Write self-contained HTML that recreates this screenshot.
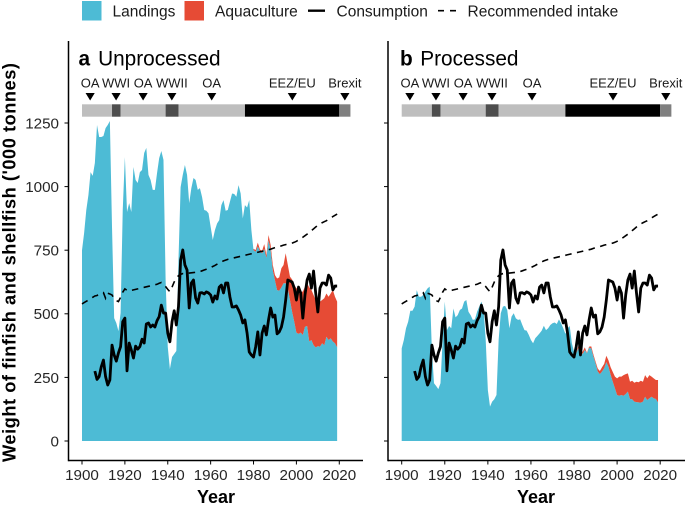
<!DOCTYPE html>
<html lang="en">
<head>
<meta charset="utf-8">
<title>Weight of finfish and shellfish</title>
<style>
html,body{margin:0;padding:0;background:#fff;}
svg{display:block;font-family:"Liberation Sans",Arial,sans-serif;}
</style>
</head>
<body>
<svg id="chart" xmlns="http://www.w3.org/2000/svg" width="685" height="505" viewBox="0 0 685 505">
  <g>
    <rect x="82" y="1" width="19.5" height="19.5" fill="#4DBBD5"/>
    <text x="112.5" y="16.5" font-size="15.5" fill="#1a1a1a">Landings</text>
    <rect x="184.5" y="1" width="19.5" height="19.5" fill="#E64B35"/>
    <text x="215" y="16.5" font-size="15.5" fill="#1a1a1a">Aquaculture</text>
    <line x1="308" y1="10.7" x2="325" y2="10.7" stroke="#000" stroke-width="2.4"/>
    <text x="336.5" y="16.5" font-size="15.5" fill="#1a1a1a">Consumption</text>
    <line x1="438" y1="10.7" x2="457" y2="10.7" stroke="#000" stroke-width="1.6" stroke-dasharray="6 6"/>
    <text x="467.5" y="16.5" font-size="15.5" fill="#1a1a1a">Recommended intake</text>
  </g>
  <text transform="translate(15.5,462) rotate(-90)" font-size="18.3" font-weight="bold" fill="#000" textLength="399" lengthAdjust="spacing">Weight of finfish and shellfish ('000 tonnes)</text>
  <text x="216" y="503" text-anchor="middle" font-size="18" font-weight="bold" fill="#000">Year</text>
  <text x="536" y="503" text-anchor="middle" font-size="18" font-weight="bold" fill="#000">Year</text>
  <g id="panel-a"></g>
  <g id="panel-b"></g>
</svg>
<script>
const startYear = 1900;
const aquacultureStartYear = 1980;
const consumptionStartYear = 1906;

const landingsUnprocessed = [
750,818,908,967,1057,1042,1093,1242,1195,1195,
1199,1230,1242,1258,840,483,464,432,503,908,
1116,900,935,900,1077,1026,1014,1057,1065,1132,
1152,1046,1026,987,987,1053,1112,1140,1105,633,
370,283,330,342,354,711,998,1046,1085,1046,
935,994,1034,1026,987,994,959,908,905,895,
842,790,829,855,868,927,947,905,908,941,
973,971,960,1006,973,875,927,918,947,829,
750,744,765,745,738,755,720,790,750,670,
632,593,591,604,620,620,600,554,508,469,
426,421,426,417,449,452,391,397,377,368,
373,371,384,377,410,397,404,391,384,368];

const aquacultureUnprocessed = [
5,7,15,8,10,19,11,20,20,22,
20,46,52,75,72,118,92,92,127,144,
174,179,161,170,158,168,213,197,197,186,
168,177,170,184,170,170,176,203,183,180];

const landingsProcessed = [
364,397,443,469,512,512,528,593,567,567,
574,587,600,607,358,227,216,204,227,397,
548,436,452,443,521,486,495,515,521,548,
554,508,495,476,478,508,528,548,521,397,
200,135,155,164,181,397,502,528,531,515,
443,489,502,482,476,478,456,436,434,417,
397,384,404,413,423,434,453,436,443,456,
463,466,460,478,463,443,421,443,452,384,
351,345,364,355,342,358,345,367,364,332,
305,273,263,273,286,310,292,260,233,207,
181,178,181,178,185,194,165,164,155,153,
152,151,155,174,161,168,174,168,165,152];

const aquacultureProcessed = [
0,2,9,3,9,10,2,4,8,8,
7,12,12,17,17,25,25,30,38,46,
65,75,72,81,78,72,68,73,74,80,
79,86,78,85,85,91,79,78,75,88];

const consumption = [
275,242,253,292,
318,253,220,240,377,338,314,346,371,469,
483,276,385,358,326,373,361,371,400,385,
460,464,448,456,448,473,489,534,503,503,
424,390,469,512,456,528,711,751,692,672,
523,621,633,562,542,582,583,578,586,582,
574,546,570,558,605,613,582,621,621,566,
527,527,531,515,495,464,476,424,350,338,
330,370,429,338,424,452,417,476,523,487,
495,421,429,448,487,554,633,629,625,601,
554,605,582,483,574,633,656,601,668,582,
507,601,621,621,613,652,641,594,609,609];

const recommendedIntake = [
539,544,549,554,560,565,570,572,577,580,
583,561,581,578,574,560,552,548,565,585,
598,592,590,592,594,596,598,600,602,604,
606,608,610,612,614,616,620,623,614,607,
596,587,605,625,640,650,655,658,658,659,
660,661,662,663,664,666,669,672,675,678,
682,686,690,695,700,704,708,711,714,716,
718,720,722,724,726,728,730,732,734,736,
738,740,742,744,746,748,750,752,754,757,
760,762,764,767,770,772,774,776,778,781,
785,790,795,801,807,813,820,827,834,841,
848,853,858,862,866,872,877,882,887,892];

const xTicks = [1900,1920,1940,1960,1980,2000,2020];
const yTicks = [0,250,500,750,1000,1250];
const eventLabels = ["OA","WWI","OA","WWII","OA","EEZ/EU","Brexit"];
const eventYears = [1903.8,1915.9,1928.5,1941.9,1960.5,1998.1,2022.6];
const periodStarts = [1900,1914,1918,1939,1945,1976,2020];
const periodEnds = [1914,1918,1939,1945,1976,2020,2025.2];
const periodColors = ["#bebebe","#4d4d4d","#bebebe","#4d4d4d","#bebebe","#000000","#7f7f7f"];

const NS = "http://www.w3.org/2000/svg";
const yZero = 441;
const yScalePerUnit = 0.2544;

function yPos(v){ return yZero - v * yScalePerUnit; }

function mk(parent, tag, attrs, txt){
  const el = document.createElementNS(NS, tag);
  for (const k in attrs) el.setAttribute(k, attrs[k]);
  if (txt !== undefined) el.textContent = txt;
  parent.appendChild(el);
  return el;
}

function linePath(values, firstYear, xPos){
  return values.map(function(v,i){
    return (i ? "L" : "M") + xPos(firstYear + i).toFixed(2) + " " + yPos(v).toFixed(2);
  }).join("");
}

function drawPanel(group, o){
  const xPos = function(year){ return o.x1900 + (year - 1900) * o.xScale; };
  const lastYear = startYear + o.landings.length - 1;

  const axisColor = "#000";

  // landings area
  const landingsD = linePath(o.landings, startYear, xPos) +
    "L" + xPos(lastYear).toFixed(2) + " " + yPos(0) +
    "L" + xPos(startYear).toFixed(2) + " " + yPos(0) + "Z";
  const landingsArea = mk(group, "path", {d: landingsD, fill: "#4DBBD5"});
  
  

  // aquaculture area stacked on landings
  const base = o.landings.slice(aquacultureStartYear - startYear);
  const stackTop = o.aquaculture.map(function(v,i){ return v + base[i]; });
  let aquaD = linePath(stackTop, aquacultureStartYear, xPos);
  for (let i = base.length - 1; i >= 0; i--) {
    aquaD += "L" + xPos(aquacultureStartYear + i).toFixed(2) + " " + yPos(base[i]).toFixed(2);
  }
  const aquaArea = mk(group, "path", {d: aquaD + "Z", fill: "#E64B35"});
  
  

  // recommended intake
  const intakeLine = mk(group, "path", {d: linePath(recommendedIntake, startYear, xPos), fill: "none", stroke: "#000", "stroke-width": 1.6, "stroke-dasharray": "6.5 5.5"});
  
  

  // consumption
  const consumptionLine = mk(group, "path", {d: linePath(consumption, consumptionStartYear, xPos), fill: "none", stroke: "#000", "stroke-width": 2.8, "stroke-linejoin": "round"});
  
  

  // period bar
  periodStarts.forEach(function(s,i){
    const seg = mk(group, "rect", {x: xPos(s).toFixed(2), y: 104.3, width: (xPos(periodEnds[i]) - xPos(s)).toFixed(2), height: 12.4, fill: periodColors[i]});
    
    
  });

  // event labels and markers
  eventLabels.forEach(function(label,i){
    const cx = xPos(eventYears[i]);
    const t = mk(group, "text", {x: cx.toFixed(2), y: 87.5, "text-anchor": "middle", "font-size": 13, fill: "#1a1a1a"}, label);
    
    
    const m = mk(group, "path", {d: "M" + (cx-4.6).toFixed(2) + " 93L" + (cx+4.6).toFixed(2) + " 93L" + cx.toFixed(2) + " 100.5Z", fill: "#000"});
    
    
  });

  // axes
  const yAxis = mk(group, "line", {x1: o.axisX, y1: 41, x2: o.axisX, y2: 461.3, stroke: axisColor, "stroke-width": 1.5});
  
  
  const xAxis = mk(group, "line", {x1: o.axisX, y1: 460.5, x2: o.axisEnd, y2: 460.5, stroke: axisColor, "stroke-width": 1.5});
  
  

  yTicks.forEach(function(v){
    const tick = mk(group, "line", {x1: o.axisX - 4, y1: yPos(v), x2: o.axisX, y2: yPos(v), stroke: axisColor, "stroke-width": 1});
    
    
    if (o.showYLabels) {
      const lab = mk(group, "text", {x: o.axisX - 9.5, y: yPos(v) + 5.4, "text-anchor": "end", "font-size": 15.2, fill: "#262626"}, String(v));
      
      
    }
  });

  xTicks.forEach(function(yr){
    const tick = mk(group, "line", {x1: xPos(yr), y1: 460.5, x2: xPos(yr), y2: 464.5, stroke: axisColor, "stroke-width": 1});
    
    
    const lab = mk(group, "text", {x: xPos(yr), y: 480, "text-anchor": "middle", "font-size": 15.2, fill: "#262626"}, String(yr));
    
    
  });

  // panel title
  const title = mk(group, "text", {x: o.titleX, y: 65.5, "font-size": 20.8, fill: "#000"});
  const tagSpan = mk(title, "tspan", {"font-weight": "bold"}, o.tag);
  
  
  const nameSpan = mk(title, "tspan", {dx: o.titleGap}, o.title);
  
  
  
  
}

drawPanel(document.getElementById("panel-a"), {
  landings: landingsUnprocessed, aquaculture: aquacultureUnprocessed,
  x1900: 82, xScale: 2.144, axisX: 68.5, axisEnd: 363, showYLabels: true,
  titleX: 78.5, titleGap: 8, tag: "a", title: "Unprocessed"
});
drawPanel(document.getElementById("panel-b"), {
  landings: landingsProcessed, aquaculture: aquacultureProcessed,
  x1900: 401.7, xScale: 2.154, axisX: 388, axisEnd: 685, showYLabels: false,
  titleX: 400, titleGap: 7.5, tag: "b", title: "Processed"
});
</script>
</body>
</html>
